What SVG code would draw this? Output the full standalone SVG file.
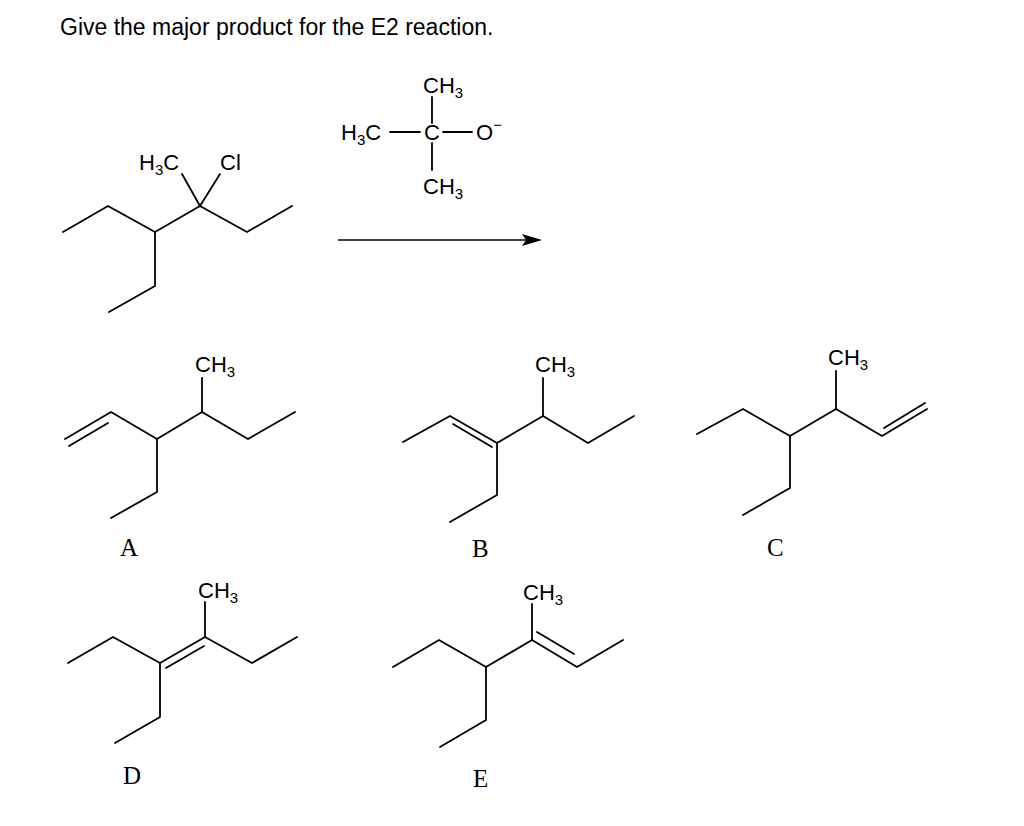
<svg xmlns="http://www.w3.org/2000/svg" width="1024" height="826" viewBox="0 0 1024 826">
<style>
.b{stroke:#000;stroke-width:1.8;fill:none;stroke-linecap:round;stroke-linejoin:round}
.t{font-family:"Liberation Sans",Arial,sans-serif;font-size:22px;fill:#000}
.s{font-size:15px}
.l{font-family:"Liberation Serif","Times New Roman",serif;font-size:25px;fill:#000}
</style>
<rect width="1024" height="826" fill="#fff"/>
<text x="60" y="35" class="t" style="font-size:23px">Give the major product for the E2 reaction.</text>
<g id="reactant">
<polyline class="b" points="63,232 108,206 155,232 200,206 247,232 292,206"/>
<polyline class="b" points="155,232 155,286 109,312"/>
<line class="b" x1="200" y1="206" x2="182" y2="174"/>
<line class="b" x1="200" y1="206" x2="220" y2="174"/>
<text x="139" y="170" class="t">H<tspan class="s" dy="5">3</tspan><tspan dy="-5">C</tspan></text>
<text x="220" y="170" class="t">Cl</text>
</g>
<g id="reagent">
<text x="423" y="93" class="t">CH<tspan class="s" dy="5">3</tspan></text>
<line class="b" x1="432" y1="97" x2="432" y2="123"/>
<text x="341" y="140" class="t">H<tspan class="s" dy="5">3</tspan><tspan dy="-5">C</tspan></text>
<line class="b" x1="390" y1="132" x2="420" y2="132"/>
<text x="424" y="140" class="t">C</text>
<line class="b" x1="443" y1="132" x2="472" y2="132"/>
<text x="476" y="140" class="t">O<tspan class="s" dy="-10">−</tspan></text>
<line class="b" x1="432" y1="143" x2="432" y2="170"/>
<text x="423" y="194" class="t">CH<tspan class="s" dy="5">3</tspan></text>
</g>
<g id="arrow">
<line x1="338" y1="240" x2="528" y2="240" stroke="#000" stroke-width="1.5"/>
<polygon points="542,240 522,234 526,240 522,246" fill="#000"/>
</g>
<g id="A">
<polyline class="b" points="65,439 111,412 157,439 202,412 248,439 295,412"/>
<line class="b" x1="69" y1="446" x2="108" y2="423"/>
<line class="b" x1="202" y1="412" x2="202" y2="378"/>
<polyline class="b" points="157,439 157,492 111,518"/>
<text x="195" y="372" class="t">CH<tspan class="s" dy="5">3</tspan></text>
<text x="120" y="556" class="l">A</text>
</g>
<g id="B">
<polyline class="b" points="403,442 450,416 497,443 543,416 588,443 634,416"/>
<line class="b" x1="453" y1="424" x2="492" y2="447"/>
<line class="b" x1="543" y1="416" x2="543" y2="378"/>
<polyline class="b" points="497,443 497,495 450,522"/>
<text x="535" y="372" class="t">CH<tspan class="s" dy="5">3</tspan></text>
<text x="472" y="557" class="l">B</text>
</g>
<g id="C">
<polyline class="b" points="697,434 743,409 790,436 836,409 882,436 927,409"/>
<line class="b" x1="884" y1="428" x2="925" y2="403"/>
<line class="b" x1="836" y1="409" x2="836" y2="371"/>
<polyline class="b" points="790,436 790,488 743,515"/>
<text x="828" y="365" class="t">CH<tspan class="s" dy="5">3</tspan></text>
<text x="767" y="556" class="l">C</text>
</g>
<g id="D">
<polyline class="b" points="68,663 113,637 160,663 205,637 252,663 297,637"/>
<line class="b" x1="166" y1="668" x2="204" y2="646"/>
<line class="b" x1="205" y1="637" x2="205" y2="602"/>
<polyline class="b" points="160,663 160,717 115,743"/>
<text x="198" y="598" class="t">CH<tspan class="s" dy="5">3</tspan></text>
<text x="123" y="784" class="l">D</text>
</g>
<g id="E">
<polyline class="b" points="393,667 439,640 486,667 532,640 577,667 623,640"/>
<line class="b" x1="537" y1="632" x2="574" y2="654"/>
<line class="b" x1="532" y1="640" x2="532" y2="604"/>
<polyline class="b" points="486,667 486,720 440,747"/>
<text x="523" y="600" class="t">CH<tspan class="s" dy="5">3</tspan></text>
<text x="473" y="787" class="l">E</text>
</g>
</svg>
